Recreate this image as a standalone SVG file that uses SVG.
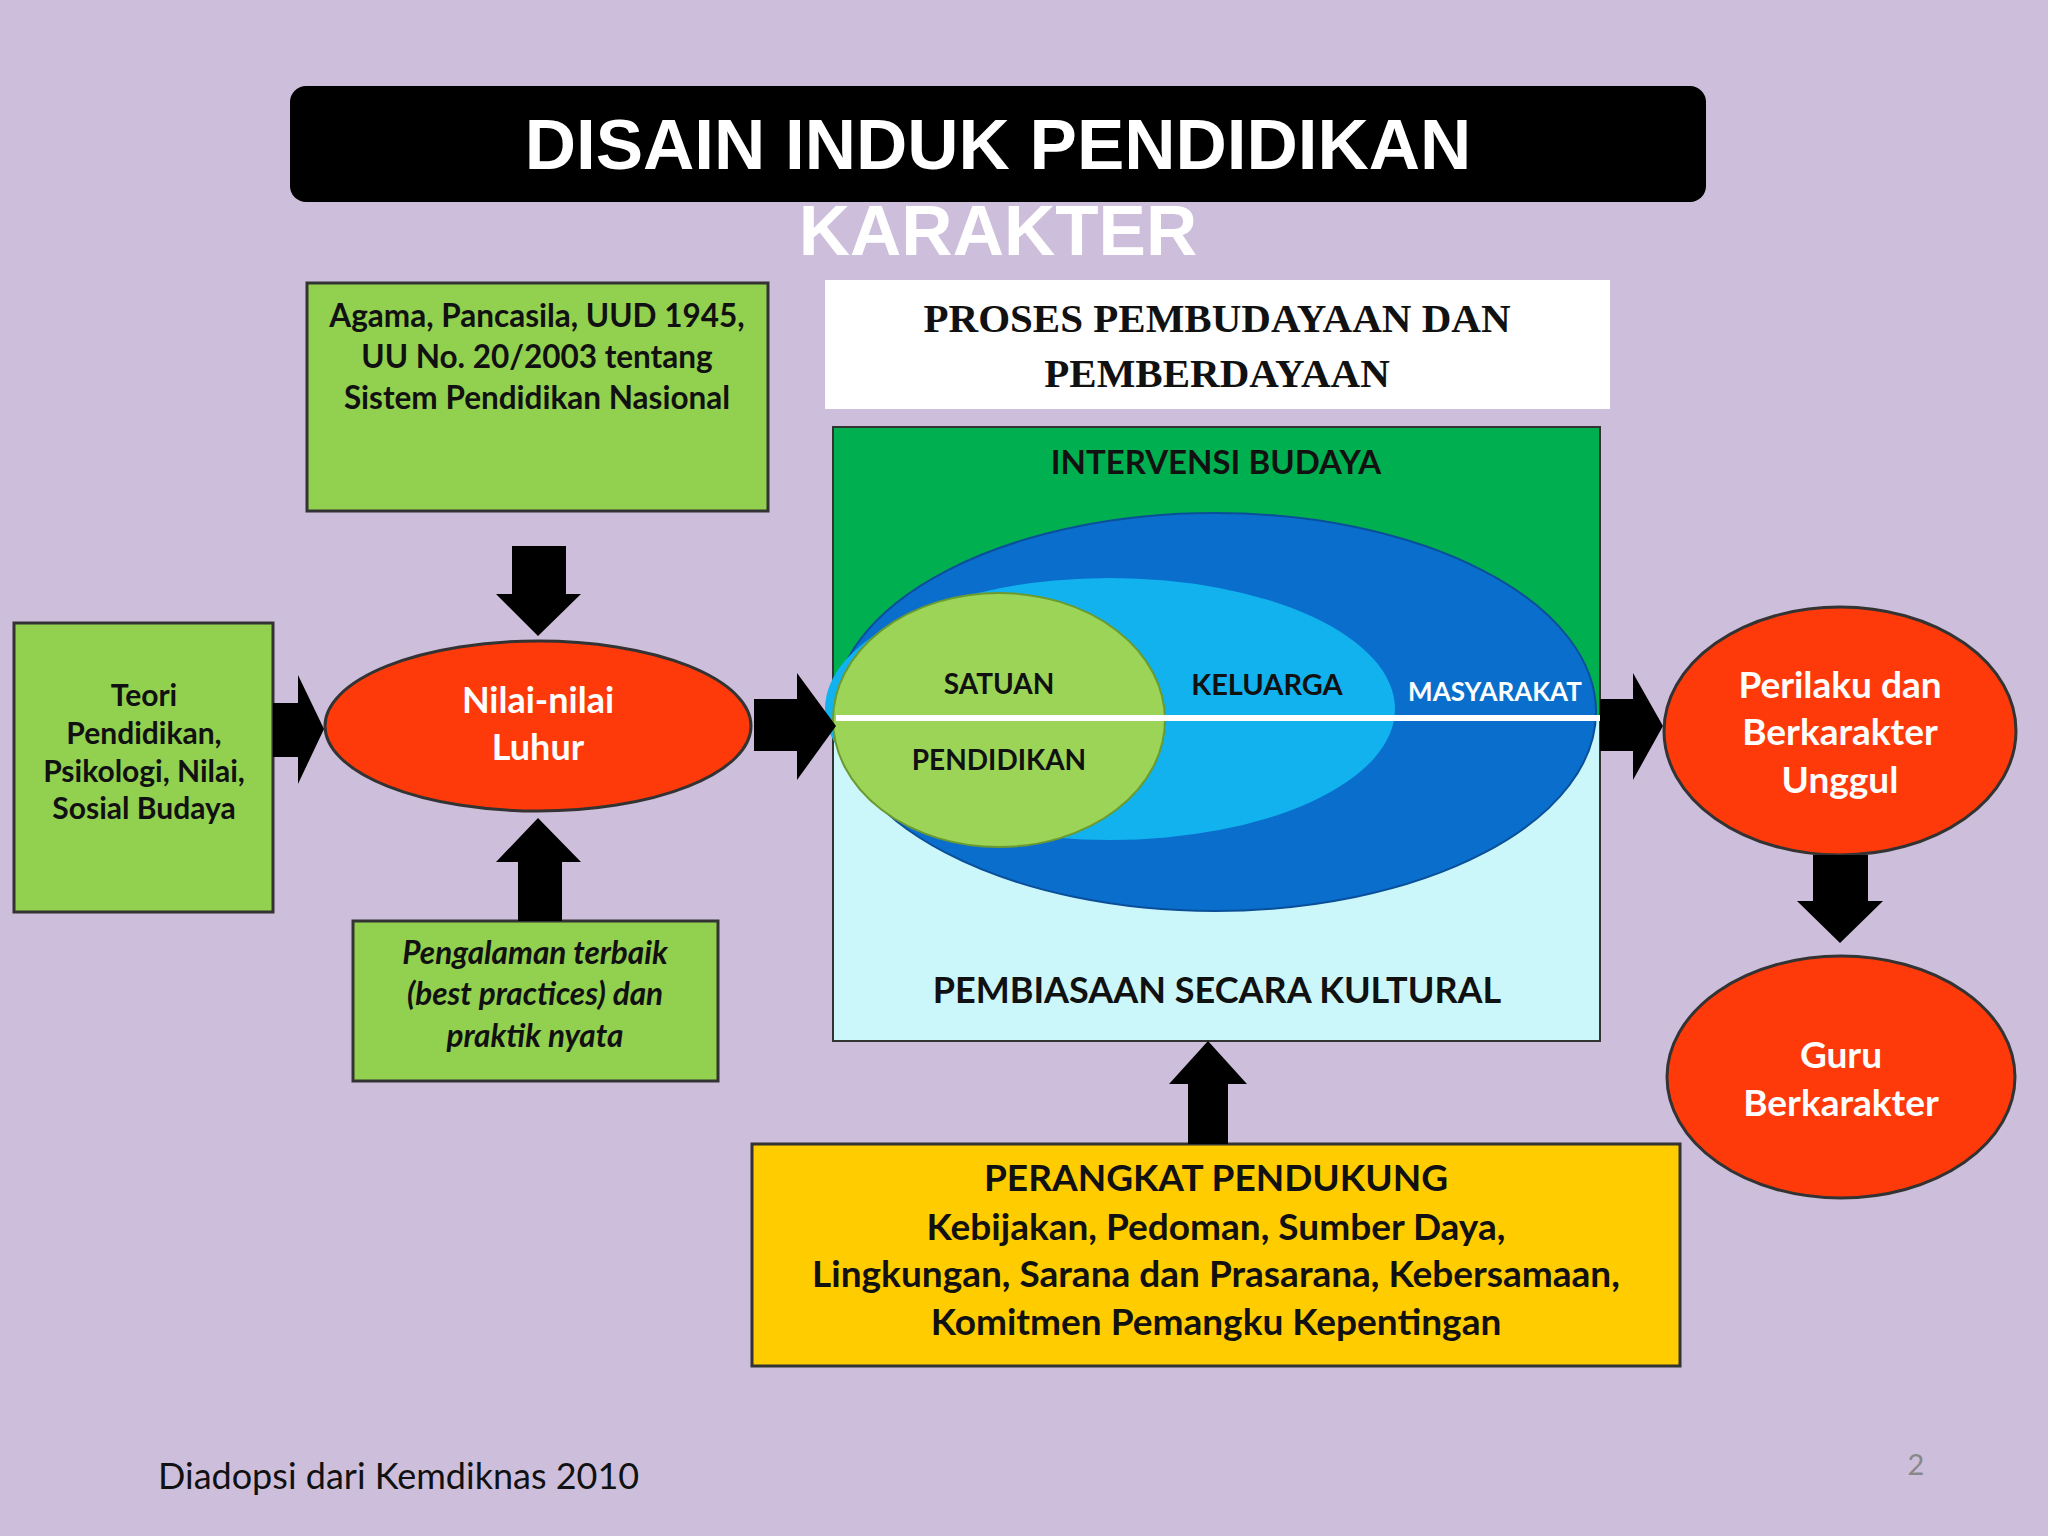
<svg xmlns="http://www.w3.org/2000/svg" width="2048" height="1536" viewBox="0 0 2048 1536">
<style>
.t{font-family:Lato,"Open Sans",sans-serif;font-weight:bold;text-anchor:middle;fill:#111}
.w{fill:#fff}
.g{fill:#92d050;stroke:#333;stroke-width:3}
.r{fill:#ff3a0a;stroke:#333;stroke-width:3}
.a{fill:#000}
</style>
<defs>
<radialGradient id="rg" cx="50%" cy="40%" r="60%"><stop offset="0" stop-color="#ff5a14"/><stop offset="1" stop-color="#f03000"/></radialGradient>
</defs>
<rect width="2048" height="1536" fill="#cdbfdb"/>
<g id="title">
<rect x="290" y="86" width="1416" height="116" rx="16" fill="#000"/>
<text x="998" y="169" font-family="Liberation Sans,sans-serif" font-weight="bold" font-size="71" text-anchor="middle" fill="#fff">DISAIN INDUK PENDIDIKAN</text>
<text x="998" y="255" font-family="Liberation Sans,sans-serif" font-weight="bold" font-size="71" text-anchor="middle" fill="#fff">KARAKTER</text>
</g>
<g id="agama">
<rect class="g" x="307" y="283" width="461" height="228"/>
<text class="t" font-size="31.5" x="537" y="327">Agama, Pancasila, UUD 1945,</text>
<text class="t" font-size="31.5" x="537" y="368">UU No. 20/2003 tentang</text>
<text class="t" font-size="31.5" x="537" y="409">Sistem Pendidikan Nasional</text>
</g>
<g id="teori">
<rect class="g" x="14" y="623" width="259" height="289"/>
<text class="t" font-size="30" x="144" y="706">Teori</text>
<text class="t" font-size="30" x="144" y="744">Pendidikan,</text>
<text class="t" font-size="30" x="144" y="782">Psikologi, Nilai,</text>
<text class="t" font-size="30" x="144" y="819">Sosial Budaya</text>
</g>
<g id="nilai">
<ellipse class="r" cx="538" cy="726" rx="213" ry="85" fill="url(#rg)"/>
<text class="t w" font-size="36" x="538" y="713">Nilai-nilai</text>
<text class="t w" font-size="36" x="538" y="760">Luhur</text>
</g>
<g id="pengalaman">
<rect class="g" x="353" y="921" width="365" height="160"/>
<text class="t" font-size="31.5" font-style="italic" x="535" y="964">Pengalaman terbaik</text>
<text class="t" font-size="31.5" font-style="italic" x="535" y="1005">(best practices) dan</text>
<text class="t" font-size="31.5" font-style="italic" x="535" y="1047">praktik nyata</text>
</g>
<g id="proses">
<rect x="825" y="280" width="785" height="129" fill="#fff"/>
<text x="1217" y="332" font-family="Liberation Serif,serif" font-weight="bold" font-size="41" text-anchor="middle" fill="#111">PROSES PEMBUDAYAAN DAN</text>
<text x="1217" y="387" font-family="Liberation Serif,serif" font-weight="bold" font-size="41" text-anchor="middle" fill="#111">PEMBERDAYAAN</text>
</g>
<g id="intervensi">
<rect x="833" y="718" width="767" height="323" fill="#ccf7fa"/>
<rect x="833" y="427" width="767" height="291" fill="#00b050"/>
<rect x="833" y="427" width="767" height="614" fill="none" stroke="#333" stroke-width="2"/>
<text class="t" font-size="33" x="1216" y="474">INTERVENSI BUDAYA</text>
<ellipse cx="1215" cy="712" rx="381" ry="199" fill="#0a6fcc" stroke="#0a4f99" stroke-width="2"/>
<ellipse cx="1110" cy="709" rx="285" ry="131" fill="#12b2ef"/>
<ellipse cx="999" cy="720" rx="166" ry="127" fill="#9bd457" stroke="#6a9a30" stroke-width="2"/>
<line x1="836" y1="718" x2="1600" y2="718" stroke="#fff" stroke-width="6"/>
<text class="t" font-size="28" x="999" y="694">SATUAN</text>
<text class="t" font-size="28" x="999" y="770">PENDIDIKAN</text>
<text class="t" font-size="29" x="1267" y="695">KELUARGA</text>
<text class="t w" font-size="26" x="1495" y="701">MASYARAKAT</text>
<text class="t" font-size="36" x="1217" y="1003">PEMBIASAAN SECARA KULTURAL</text>
</g>
<g id="perilaku">
<ellipse class="r" cx="1840" cy="731" rx="176" ry="124" fill="url(#rg)"/>
<text class="t w" font-size="37" x="1840" y="698">Perilaku dan</text>
<text class="t w" font-size="37" x="1840" y="745">Berkarakter</text>
<text class="t w" font-size="37" x="1840" y="793">Unggul</text>
</g>
<g id="guru">
<ellipse class="r" cx="1841" cy="1077" rx="174" ry="121" fill="url(#rg)"/>
<text class="t w" font-size="37" x="1841" y="1068">Guru</text>
<text class="t w" font-size="37" x="1841" y="1116">Berkarakter</text>
</g>
<g id="perangkat">
<rect x="752" y="1144" width="928" height="222" fill="#ffcc00" stroke="#333" stroke-width="3"/>
<text class="t" font-size="37" x="1216" y="1191">PERANGKAT PENDUKUNG</text>
<text class="t" font-size="37" x="1216" y="1240">Kebijakan, Pedoman, Sumber Daya,</text>
<text class="t" font-size="37" x="1216" y="1287">Lingkungan, Sarana dan Prasarana, Kebersamaan,</text>
<text class="t" font-size="37" x="1216" y="1335">Komitmen Pemangku Kepentingan</text>
</g>
<g id="connectors" class="a">
<polygon points="512,546 566,546 566,594 581,594 538,636 496,594 512,594"/>
<polygon points="273,703 298,703 298,675 324,729 298,784 298,757 273,757"/>
<polygon points="518,921 562,921 562,862 581,862 538,818 496,862 518,862"/>
<polygon points="754,699 797,699 797,673 836,726 797,780 797,751 754,751"/>
<polygon points="1600,699 1633,699 1633,673 1663,726 1633,780 1633,751 1600,751"/>
<polygon points="1813,855 1868,855 1868,901 1883,901 1840,943 1797,901 1813,901"/>
<polygon points="1188,1144 1228,1144 1228,1084 1247,1084 1208,1041 1169,1084 1188,1084"/>
</g>
<g id="footer">
<text x="158" y="1489" font-family="Lato,sans-serif" font-size="36" fill="#111">Diadopsi dari Kemdiknas 2010</text>
<text x="1916" y="1475" font-family="Lato,sans-serif" font-size="29" fill="#888" text-anchor="middle">2</text>
</g>
</svg>
